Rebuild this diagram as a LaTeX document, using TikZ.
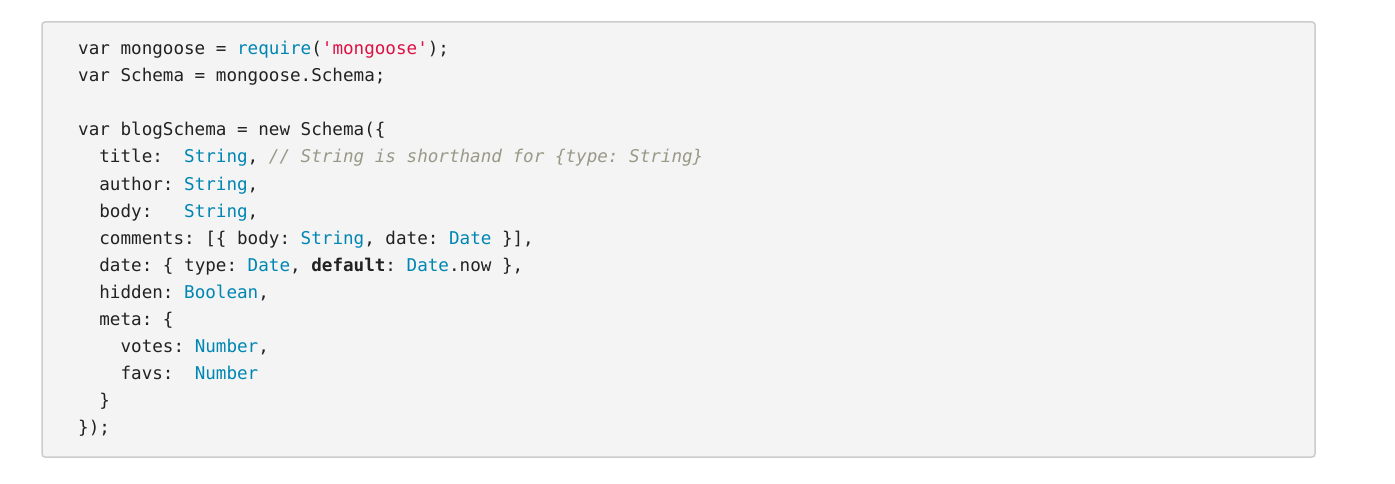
\documentclass[tikz,border=0pt]{standalone}
\usepackage{fontspec}
\setmonofont{DejaVu Sans Mono}
\definecolor{kw}{HTML}{0086B3}
\definecolor{st}{HTML}{DD1144}
\definecolor{cm}{HTML}{999988}
\definecolor{tx}{HTML}{222222}
\newcommand{\B}[1]{\textcolor{kw}{#1}}
\begin{document}
\begin{tikzpicture}[x=1pt,y=1pt,ln/.style={anchor=base west,inner sep=0pt,font=\fontsize{17.6}{20}\ttfamily,text=tx}]
\useasboundingbox (0,0) rectangle (1395,483);
\draw[draw=black!20,line width=1.5pt,fill=black!4.5,rounded corners=3pt] (42,26) rectangle (1315,461);
\node[ln] (l1) at (78,428) {var mongoose = \B{require}(\textcolor{st}{'mongoose'});};
\node[ln] (l2) at (78,401) {var Schema = mongoose.Schema;};
\node[ln] (l3) at (78,347) {var blogSchema = new Schema(\{};
\node[ln] (l4) at (78,320) {\ \ title:\ \ \B{String}, \textcolor{cm}{\itshape // String is shorthand for \{type: String\}}};
\node[ln] (l5) at (78,293) {\ \ author: \B{String},};
\node[ln] (l6) at (78,266) {\ \ body:\ \ \ \B{String},};
\node[ln] (l7) at (78,239) {\ \ comments: [\{ body: \B{String}, date: \B{Date} \}],};
\node[ln] (l8) at (78,212) {\ \ date: \{ type: \B{Date}, \textbf{default}: \B{Date}.now \},};
\node[ln] (l9) at (78,185) {\ \ hidden: \B{Boolean},};
\node[ln] (l10) at (78,158) {\ \ meta: \{};
\node[ln] (l11) at (78,131) {\ \ \ \ votes: \B{Number},};
\node[ln] (l12) at (78,104) {\ \ \ \ favs:\ \ \B{Number}};
\node[ln] (l13) at (78,77) {\ \ \}};
\node[ln] (l14) at (78,50) {\});};
\end{tikzpicture}
\end{document}
